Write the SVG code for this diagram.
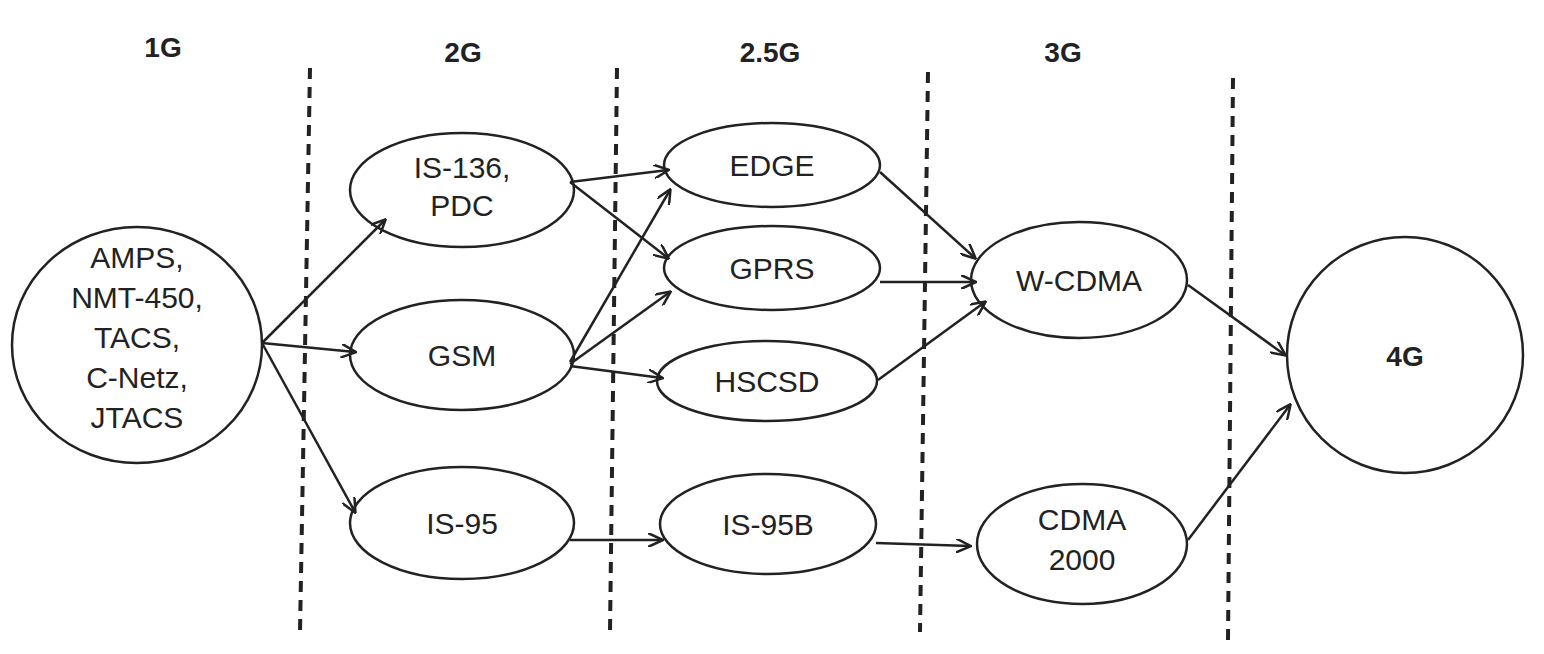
<svg xmlns="http://www.w3.org/2000/svg" width="1544" height="654" viewBox="0 0 1544 654">
<defs><marker id="a" markerWidth="16" markerHeight="14" refX="14" refY="7" orient="auto" markerUnits="userSpaceOnUse"><path d="M0,0 L15,7 L0,14" fill="none" stroke="#222" stroke-width="2.5"/></marker></defs>
<style>
ellipse{fill:#fff;stroke:#222;stroke-width:2.5}
text{font-family:"Liberation Sans",Arial,sans-serif;font-size:30px;fill:#222;text-anchor:middle}
.h{font-weight:bold;font-size:28px}
.c line{stroke:#222;stroke-width:2.5;marker-end:url(#a)}
.d line{stroke:#222;stroke-width:4;stroke-dasharray:11,8}
</style>
<rect width="1544" height="654" fill="#fff"/>
<g class="d"><line x1="310" y1="68" x2="300" y2="632"/><line x1="617" y1="68" x2="610" y2="632"/><line x1="928" y1="72" x2="920" y2="632"/><line x1="1233" y1="78" x2="1228" y2="640"/></g>
<g id="headings"><text class="h" x="163" y="57">1G</text><text class="h" x="463" y="62">2G</text><text class="h" x="770" y="62">2.5G</text><text class="h" x="1063" y="62">3G</text></g>
<g id="amps"><ellipse cx="137" cy="345" rx="125" ry="118"/><text x="137" y="268">AMPS,</text><text x="137" y="308">NMT-450,</text><text x="137" y="348">TACS,</text><text x="137" y="388">C-Netz,</text><text x="137" y="428">JTACS</text></g>
<g id="is136"><ellipse cx="462" cy="190" rx="112" ry="57"/><text x="462" y="178">IS-136,</text><text x="462" y="216">PDC</text></g>
<g id="gsm"><ellipse cx="462" cy="355" rx="112" ry="55"/><text x="462" y="366">GSM</text></g>
<g id="is95"><ellipse cx="462" cy="523" rx="112" ry="56"/><text x="462" y="534">IS-95</text></g>
<g id="edge"><ellipse cx="772" cy="165" rx="108" ry="42"/><text x="772" y="176">EDGE</text></g>
<g id="gprs"><ellipse cx="772" cy="268" rx="108" ry="42"/><text x="772" y="279">GPRS</text></g>
<g id="hscsd"><ellipse cx="767" cy="381" rx="110" ry="40"/><text x="767" y="392">HSCSD</text></g>
<g id="is95b"><ellipse cx="768" cy="524" rx="108" ry="50"/><text x="768" y="535">IS-95B</text></g>
<g id="wcdma"><ellipse cx="1079" cy="280" rx="108" ry="58"/><text x="1079" y="291">W-CDMA</text></g>
<g id="cdma2000"><ellipse cx="1082" cy="544" rx="105" ry="60"/><text x="1082" y="530">CDMA</text><text x="1082" y="570">2000</text></g>
<g id="g4"><ellipse cx="1405" cy="355" rx="118" ry="118"/><text class="h" x="1405" y="366">4G</text></g>
<g class="c">
<line x1="262" y1="343" x2="385" y2="220"/><line x1="262" y1="343" x2="355" y2="352"/><line x1="262" y1="343" x2="355" y2="512"/>
<line x1="570" y1="182" x2="668" y2="170"/><line x1="570" y1="182" x2="668" y2="258"/>
<line x1="570" y1="362" x2="670" y2="190"/><line x1="570" y1="364" x2="670" y2="292"/><line x1="570" y1="366" x2="662" y2="378"/>
<line x1="880" y1="172" x2="975" y2="258"/><line x1="880" y1="282" x2="975" y2="282"/><line x1="878" y1="380" x2="985" y2="302"/>
<line x1="1188" y1="285" x2="1285" y2="355"/><line x1="1188" y1="540" x2="1290" y2="405"/>
<line x1="570" y1="540" x2="662" y2="540"/><line x1="876" y1="543" x2="970" y2="546"/>
</g>
</svg>
